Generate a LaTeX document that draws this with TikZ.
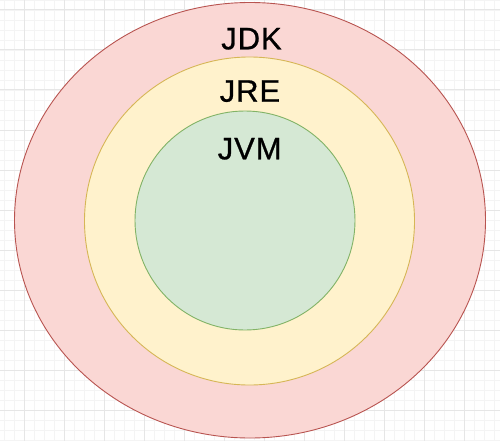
\documentclass[tikz,border=0pt]{standalone}
\usepackage{fontspec}
\setmainfont{Liberation Sans}
\newfontfamily\lblfont[LetterSpace=3,FakeBold=0.8]{Liberation Sans}
\definecolor{redfill}{HTML}{FAD7D4}
\definecolor{redline}{HTML}{B85450}
\definecolor{yelfill}{HTML}{FFF2CC}
\definecolor{yelline}{HTML}{D6B656}
\definecolor{grnfill}{HTML}{D5E8D4}
\definecolor{grnline}{HTML}{82B366}
\definecolor{gridminor}{HTML}{F4F4F4}
\definecolor{gridmajor}{HTML}{E6E6E6}
\tikzset{
  ring/.style={ellipse, draw, line width=0.9pt, inner sep=0pt, outer sep=0pt},
  lbl/.style={font=\lblfont\fontsize{31}{34}\selectfont, text=black, inner sep=0pt, anchor=base}
}
\usetikzlibrary{shapes.geometric}
\begin{document}
\begin{tikzpicture}[x=1pt,y=-1pt]
\useasboundingbox (0,0) rectangle (500,441);
\fill[white] (0,0) rectangle (500,441);
% minor grid
\foreach \gx in {4,14,...,494} \draw[gridminor, line width=0.8pt] (\gx,0) -- (\gx,441);
\foreach \gy in {0,10,...,440} \draw[gridminor, line width=0.8pt] (0,\gy) -- (500,\gy);
% major grid
\foreach \gx in {24,64,...,484} \draw[gridmajor, line width=1pt] (\gx,0) -- (\gx,441);
\foreach \gy in {10,50,...,430} \draw[gridmajor, line width=1pt] (0,\gy) -- (500,\gy);
\node[ring, draw=redline, fill=redfill, minimum width=471pt, minimum height=435.5pt] (jdk) at (250,220.25) {};
\node[ring, draw=yelline, fill=yelfill, minimum width=330pt, minimum height=328pt] (jre) at (249.5,221) {};
\node[ring, draw=grnline, fill=grnfill, minimum width=220pt, minimum height=219pt] (jvm) at (245,220.5) {};
\node[lbl] (tjdk) at (251.5,49.3) {JDK};
\node[lbl] (tjre) at (250,101.7) {JRE};
\node[lbl] (tjvm) at (249.7,159.3) {JVM};
\end{tikzpicture}
\end{document}
